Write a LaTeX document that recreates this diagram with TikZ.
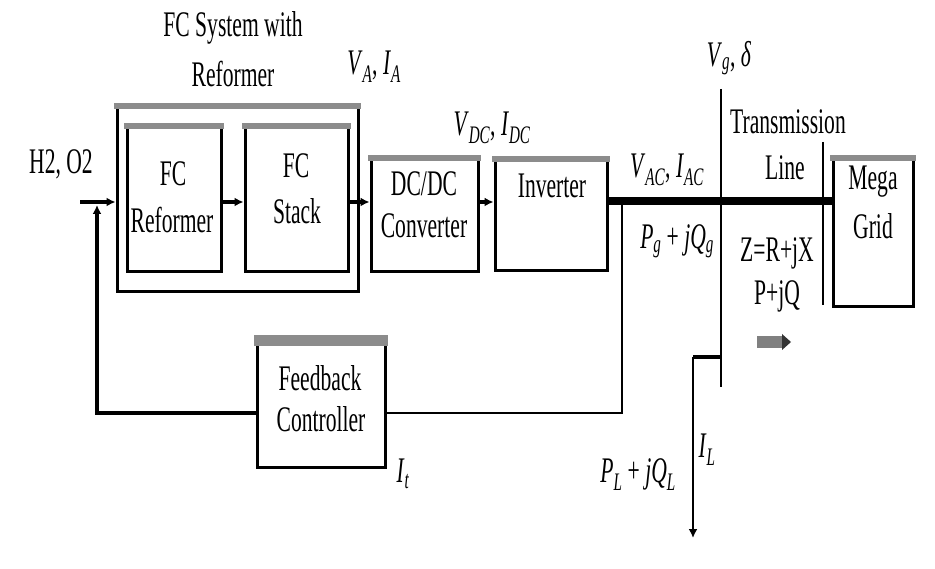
\documentclass[tikz,border=0pt]{standalone}
\usepackage{fontspec}
\setmainfont{Liberation Serif}
\usetikzlibrary{arrows.meta}
\newcommand{\cz}[1]{\scalebox{0.6}[1]{#1}}
\newcommand{\vi}[2]{\textit{#1}\textsubscript{\textit{#2}}}
\begin{document}
\begin{tikzpicture}[x=1pt,y=-1pt,
  blk/.style={draw=black,line width=3pt,fill=white,inner sep=0pt},
  lbl/.style={font=\fontsize{36}{37}\selectfont,inner sep=0pt,align=center},
  wire/.style={line width=3.5pt},
  thin/.style={line width=2.5pt},
  arr/.style={-{Latex[length=9pt,width=9pt]}},
  bus/.style={line width=8pt}]
\useasboundingbox (0,0) rectangle (935,569);
% boxes
\node[blk,minimum width=241pt,minimum height=186pt] (fcs) at (237.5,199) {};
\node[blk,minimum width=94pt,minimum height=146pt] (ref) at (174,199) {};
\node[blk,minimum width=103pt,minimum height=146pt] (stk) at (296.5,199) {};
\node[blk,minimum width=107pt,minimum height=114pt] (dc) at (424.5,215) {};
\node[blk,minimum width=112pt,minimum height=112pt] (inv) at (551,215) {};
\node[blk,minimum width=80pt,minimum height=149pt] (grid) at (873,232.5) {};
\node[blk,minimum width=128pt,minimum height=129pt] (fb) at (321,402.5) {};
% gray top bars
\foreach \n in {fcs,ref,stk,dc,inv,grid}{
  \fill[gray!90] ([xshift=-1.5pt,yshift=1.5pt]\n.north west) rectangle ([xshift=1.5pt,yshift=-5pt]\n.north east);}
\fill[gray!90] ([xshift=-1.5pt,yshift=1.5pt]fb.north west) rectangle ([xshift=1.5pt,yshift=-10pt]fb.north east);
% texts in boxes
\node[lbl] (t1) at (173,174) {\cz{FC}};
\node[lbl] (t2) at (172,220) {\cz{Reformer}};
\node[lbl] (t3) at (296,166) {\cz{FC}};
\node[lbl] (t4) at (297,211) {\cz{Stack}};
\node[lbl] (t5) at (424,184) {\cz{DC/DC}};
\node[lbl] (t6) at (424,226) {\cz{Converter}};
\node[lbl] (t7) at (552,186) {\cz{Inverter}};
\node[lbl] (t8) at (873,182) {\cz{Mega}};
\node[lbl] (t9) at (873,226) {\cz{Grid}};
\node[lbl] (t10) at (320,378) {\cz{Feedback}};
\node[lbl] (t11) at (321,419) {\cz{Controller}};
% outside labels
\node[lbl] (l1) at (61,164) {\cz{H2, O2}};
\node[lbl] (l2) at (233,28) {\cz{FC System with}};
\node[lbl] (l3) at (233,74) {\cz{Reformer}};
\node[lbl] (l4) at (374,67) {\cz{\vi{V}{A}, \vi{I}{A}}};
\node[lbl] (l5) at (492,128) {\cz{\vi{V}{DC}, \vi{I}{DC}}};
\node[lbl] (l6) at (667,170) {\cz{\vi{V}{AC}, \vi{I}{AC}}};
\node[lbl] (l7) at (729,58) {\cz{\vi{V}{g}, \textit{δ}}};
\node[lbl] (l8) at (788,122) {\cz{Transmission}};
\node[lbl] (l9) at (785,168) {\cz{Line}};
\node[lbl] (l10) at (677,241) {\cz{\vi{P}{g} + \textit{j}\vi{Q}{g}}};
\node[lbl] (l11) at (777,253) {\cz{Z=R+jX}};
\node[lbl] (l12) at (777,296) {\cz{P+jQ}};
\node[lbl] (l13) at (707,450) {\cz{\vi{I}{L}}};
\node[lbl] (l14) at (638,475) {\cz{\vi{P}{L} + \textit{j}\vi{Q}{L}}};
\node[lbl] (l15) at (403,474) {\cz{\vi{I}{t}}};
% coordinates
\coordinate (in) at (80,202);
\coordinate (tap) at (622,201);
\coordinate (tapd) at (622,413);
\coordinate (fbl) at (97,413);
\coordinate (fbup) at (97,205);
\coordinate (vgt) at (721,89);
\coordinate (vgb) at (721,387);
\coordinate (tlt) at (823,142);
\coordinate (tlb) at (823,305);
\coordinate (ld1) at (721,357);
\coordinate (ld2) at (693,357);
\coordinate (ld3) at (693,538);
\coordinate (pa1) at (757,342);
\coordinate (pa2) at (791,342);
% connectors
\draw[wire,arr] (in) -- (in -| fcs.west);
\draw[wire,arr] (ref.east |- 0,202) -- (stk.west |- 0,202);
\draw[wire,arr] (stk.east |- 0,202) -- (dc.west |- 0,202);
\draw[wire,arr] (dc.east |- 0,202) -- (inv.west |- 0,202);
\draw[bus] (inv.east |- tap) -- (grid.west |- tap);
\draw[thin] (tap) -- (tapd) -- (tapd -| fb.east);
\draw[wire,arr] (fb.west |- fbl) -- (fbl) -- (fbup);
\draw[thin] (vgt) -- (vgb);
\draw[line width=2.2pt] (tlt) -- (tlb);
\draw[wire] (ld1) -- (ld2);
\draw[line width=2.2pt,arr] (ld2) -- (ld3);
\draw[gray,line width=12pt] (pa1) -- ([xshift=-8pt]pa2);
\fill[black!80] ([xshift=-9pt,yshift=-8pt]pa2) -- (pa2) -- ([xshift=-9pt,yshift=8pt]pa2) -- cycle;
\end{tikzpicture}
\end{document}
